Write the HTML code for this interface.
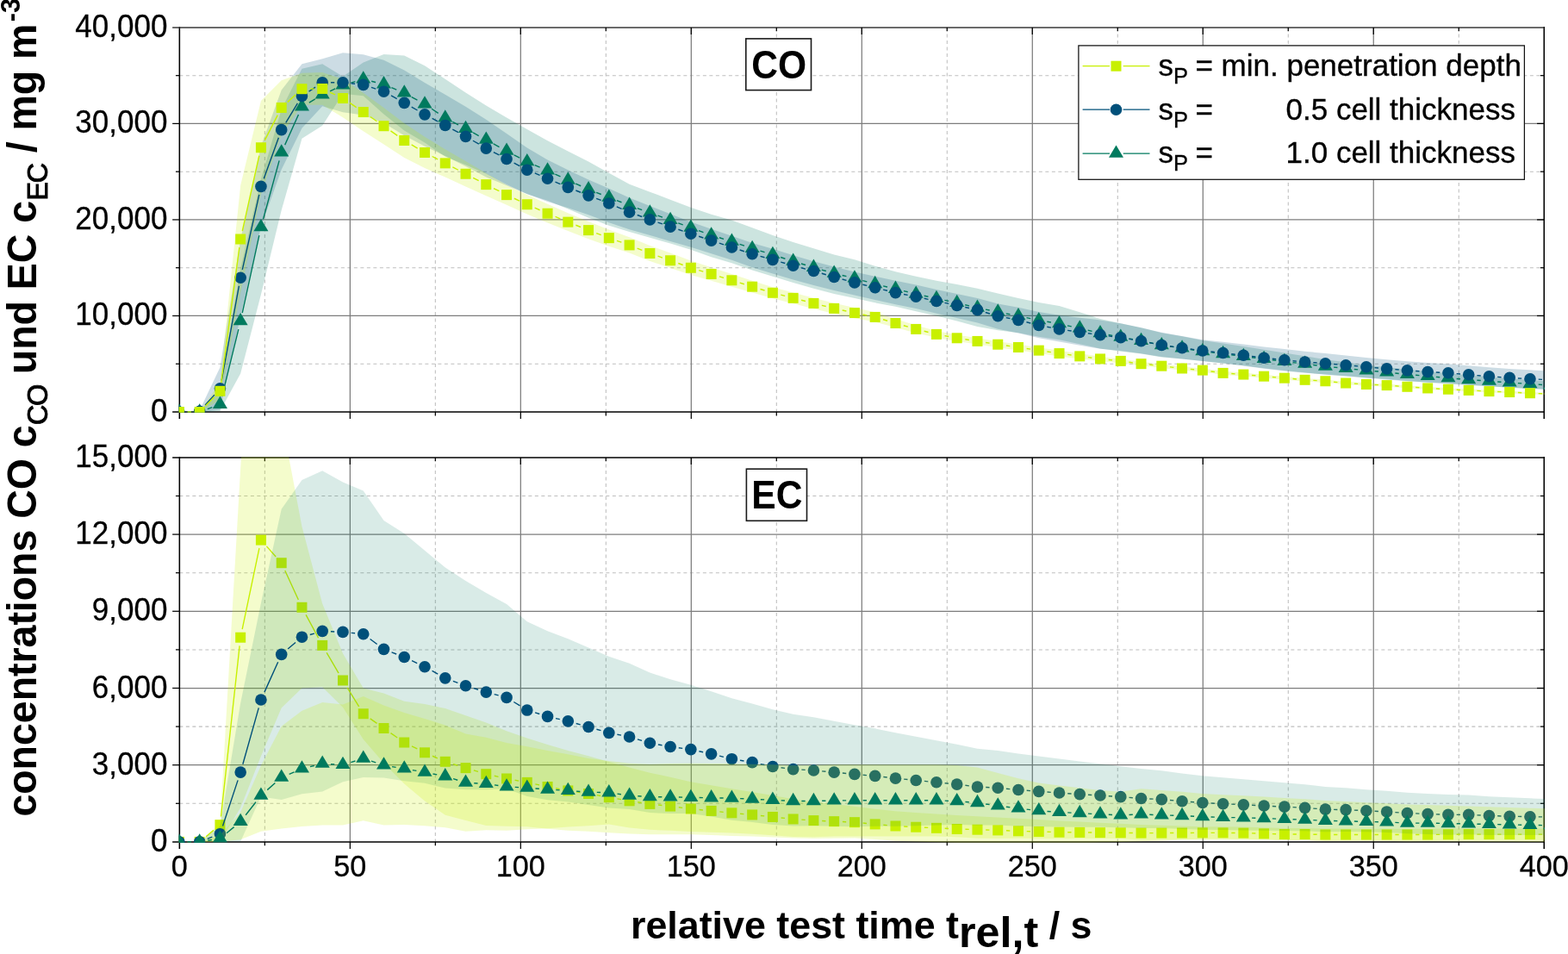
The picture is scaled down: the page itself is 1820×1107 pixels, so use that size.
<!DOCTYPE html>
<html lang="en"><head><meta charset="utf-8"><title>CO and EC concentrations</title>
<style>html,body{margin:0;padding:0;background:#fff;overflow:hidden}svg{display:block}</style>
</head><body>
<svg width="1820" height="1107" viewBox="0 0 1820 1107" role="img" aria-label="CO and EC concentrations over relative test time">
<rect width="1820" height="1107" fill="#fff"/>
<defs>
<clipPath id="ct"><rect x="207.65" y="31.2" width="1585.3" height="447.6"/></clipPath>
<clipPath id="cb"><rect x="207.65" y="530.2" width="1585.3" height="447.5"/></clipPath>
</defs>
<!-- top plot: CO -->
<g stroke="#bebebe" stroke-width="1.05" stroke-dasharray="4 3.5" fill="none">
<line x1="307.34" y1="31.9" x2="307.34" y2="478"/>
<line x1="505.33" y1="31.9" x2="505.33" y2="478"/>
<line x1="703.32" y1="31.9" x2="703.32" y2="478"/>
<line x1="901.31" y1="31.9" x2="901.31" y2="478"/>
<line x1="1099.29" y1="31.9" x2="1099.29" y2="478"/>
<line x1="1297.28" y1="31.9" x2="1297.28" y2="478"/>
<line x1="1495.27" y1="31.9" x2="1495.27" y2="478"/>
<line x1="1693.26" y1="31.9" x2="1693.26" y2="478"/>
<line x1="208.35" y1="422.24" x2="1792.25" y2="422.24"/>
<line x1="208.35" y1="310.71" x2="1792.25" y2="310.71"/>
<line x1="208.35" y1="199.19" x2="1792.25" y2="199.19"/>
<line x1="208.35" y1="87.66" x2="1792.25" y2="87.66"/>
</g>
<g stroke="#7c7c7c" stroke-width="1.25" fill="none">
<line x1="406.34" y1="31.9" x2="406.34" y2="478"/>
<line x1="604.33" y1="31.9" x2="604.33" y2="478"/>
<line x1="802.31" y1="31.9" x2="802.31" y2="478"/>
<line x1="1000.3" y1="31.9" x2="1000.3" y2="478"/>
<line x1="1198.29" y1="31.9" x2="1198.29" y2="478"/>
<line x1="1396.27" y1="31.9" x2="1396.27" y2="478"/>
<line x1="1594.26" y1="31.9" x2="1594.26" y2="478"/>
<line x1="208.35" y1="366.48" x2="1792.25" y2="366.48"/>
<line x1="208.35" y1="254.95" x2="1792.25" y2="254.95"/>
<line x1="208.35" y1="143.42" x2="1792.25" y2="143.42"/>
</g>
<g stroke="#000" stroke-width="1.55" fill="none" stroke-linecap="butt">
<line x1="208.35" y1="31.12" x2="208.35" y2="486"/>
<line x1="1792.25" y1="31.12" x2="1792.25" y2="486"/>
<line x1="200.15" y1="478" x2="1792.25" y2="478"/>
<line x1="200.15" y1="31.9" x2="1792.25" y2="31.9" stroke="#383838"/>
</g>
<g stroke="#000" stroke-width="1.25" fill="none">
<line x1="200.15" y1="366.48" x2="208.35" y2="366.48"/>
<line x1="1784.05" y1="366.48" x2="1792.25" y2="366.48"/>
<line x1="200.15" y1="254.95" x2="208.35" y2="254.95"/>
<line x1="1784.05" y1="254.95" x2="1792.25" y2="254.95"/>
<line x1="200.15" y1="143.42" x2="208.35" y2="143.42"/>
<line x1="1784.05" y1="143.42" x2="1792.25" y2="143.42"/>
<line x1="203.95" y1="422.24" x2="208.35" y2="422.24"/>
<line x1="1787.85" y1="422.24" x2="1792.25" y2="422.24"/>
<line x1="203.95" y1="310.71" x2="208.35" y2="310.71"/>
<line x1="1787.85" y1="310.71" x2="1792.25" y2="310.71"/>
<line x1="203.95" y1="199.19" x2="208.35" y2="199.19"/>
<line x1="1787.85" y1="199.19" x2="1792.25" y2="199.19"/>
<line x1="203.95" y1="87.66" x2="208.35" y2="87.66"/>
<line x1="1787.85" y1="87.66" x2="1792.25" y2="87.66"/>
<line x1="406.34" y1="478" x2="406.34" y2="486"/>
<line x1="604.33" y1="478" x2="604.33" y2="486"/>
<line x1="802.31" y1="478" x2="802.31" y2="486"/>
<line x1="1000.3" y1="478" x2="1000.3" y2="486"/>
<line x1="1198.29" y1="478" x2="1198.29" y2="486"/>
<line x1="1396.27" y1="478" x2="1396.27" y2="486"/>
<line x1="1594.26" y1="478" x2="1594.26" y2="486"/>
<line x1="307.34" y1="478" x2="307.34" y2="482.4"/>
<line x1="505.33" y1="478" x2="505.33" y2="482.4"/>
<line x1="703.32" y1="478" x2="703.32" y2="482.4"/>
<line x1="901.31" y1="478" x2="901.31" y2="482.4"/>
<line x1="1099.29" y1="478" x2="1099.29" y2="482.4"/>
<line x1="1297.28" y1="478" x2="1297.28" y2="482.4"/>
<line x1="1495.27" y1="478" x2="1495.27" y2="482.4"/>
<line x1="1693.26" y1="478" x2="1693.26" y2="482.4"/>
<line x1="406.34" y1="31.9" x2="406.34" y2="40.1"/>
<line x1="604.33" y1="31.9" x2="604.33" y2="40.1"/>
<line x1="802.31" y1="31.9" x2="802.31" y2="40.1"/>
<line x1="1000.3" y1="31.9" x2="1000.3" y2="40.1"/>
<line x1="1198.29" y1="31.9" x2="1198.29" y2="40.1"/>
<line x1="1396.27" y1="31.9" x2="1396.27" y2="40.1"/>
<line x1="1594.26" y1="31.9" x2="1594.26" y2="40.1"/>
<line x1="307.34" y1="31.9" x2="307.34" y2="36.3"/>
<line x1="505.33" y1="31.9" x2="505.33" y2="36.3"/>
<line x1="703.32" y1="31.9" x2="703.32" y2="36.3"/>
<line x1="901.31" y1="31.9" x2="901.31" y2="36.3"/>
<line x1="1099.29" y1="31.9" x2="1099.29" y2="36.3"/>
<line x1="1297.28" y1="31.9" x2="1297.28" y2="36.3"/>
<line x1="1495.27" y1="31.9" x2="1495.27" y2="36.3"/>
<line x1="1693.26" y1="31.9" x2="1693.26" y2="36.3"/>
</g>
<g clip-path="url(#ct)" id="co-series">
<path d="M207.9 478 L231.66 476.88 L255.42 452.57 L279.18 311.27 L302.93 207.89 L326.69 126.81 L350.45 79.86 L374.21 74.28 L397.97 88.78 L421.73 72.55 L445.49 63.07 L469.24 64.52 L493 76.23 L516.76 91.84 L540.52 107.57 L564.28 122.4 L588.04 136.45 L611.79 150.06 L635.55 163.22 L659.31 175.6 L683.07 187.42 L706.83 200.64 L730.59 213.74 L754.35 222.7 L778.1 231.66 L801.86 240.79 L825.62 248.82 L849.38 255.4 L873.14 264.17 L896.9 272.96 L920.65 280.94 L944.41 288.24 L968.17 295.38 L991.93 301.29 L1015.69 308.71 L1039.45 315.23 L1063.21 320.72 L1086.96 325.66 L1110.72 329.98 L1134.48 334.8 L1158.24 340.52 L1182 345.95 L1205.76 350.89 L1229.52 354.99 L1253.27 362.24 L1277.03 369.93 L1300.79 375.29 L1324.55 380.19 L1348.31 386.27 L1372.07 390.34 L1395.82 394.91 L1419.58 398.4 L1443.34 402.05 L1467.1 405.76 L1490.86 409.41 L1514.62 413.18 L1538.38 417.16 L1562.13 420.37 L1585.89 423.74 L1609.65 425.96 L1633.41 428.79 L1657.17 430.96 L1680.93 433.34 L1704.69 435.5 L1728.44 437.39 L1752.2 439.27 L1775.96 441.1 L1799.72 442.81 L1799.72 452.07 L1775.96 450.92 L1752.2 449.67 L1728.44 448.35 L1704.69 447.04 L1680.93 445.45 L1657.17 443.63 L1633.41 442.04 L1609.65 439.78 L1585.89 438.13 L1562.13 436.32 L1538.38 434.67 L1514.62 432.25 L1490.86 430.04 L1467.1 427.23 L1443.34 424.36 L1419.58 421.54 L1395.82 418.89 L1372.07 416.44 L1348.31 414.49 L1324.55 410.53 L1300.79 407.74 L1277.03 404.51 L1253.27 399.14 L1229.52 394.22 L1205.76 390.64 L1182 386.23 L1158.24 383.29 L1134.48 378.97 L1110.72 372.44 L1086.96 366.42 L1063.21 361.34 L1039.45 355.71 L1015.69 351.35 L991.93 346.09 L968.17 341 L944.41 334.68 L920.65 327.99 L896.9 320.64 L873.14 313.56 L849.38 305.3 L825.62 298.31 L801.86 289.86 L778.1 282.55 L754.35 275.69 L730.59 268.89 L706.83 261.64 L683.07 252.66 L659.31 242.51 L635.55 232.81 L611.79 225.23 L588.04 214.08 L564.28 201.81 L540.52 191.21 L516.76 181.85 L493 165.45 L469.24 151.51 L445.49 132.55 L421.73 111.36 L397.97 108.85 L374.21 145.66 L350.45 160.82 L326.69 243.91 L302.93 341.72 L279.18 433.39 L255.42 477.11 L231.66 478.56 L207.9 478 Z" fill="#007a5e" fill-opacity="0.2" stroke="none"/>
<path d="M207.9 478 L231.66 476.22 L255.42 426.31 L279.18 277.7 L302.93 169.58 L326.69 104.61 L350.45 74.28 L374.21 68.31 L397.97 61.18 L421.73 63.35 L445.49 69.68 L469.24 81.42 L493 96.03 L516.76 109.74 L540.52 123.8 L564.28 138.63 L588.04 154.91 L611.79 171.53 L635.55 185.47 L659.31 197.35 L683.07 208.44 L706.83 218.65 L730.59 229.52 L754.35 238.95 L778.1 248.37 L801.86 257.57 L825.62 265.71 L849.38 273.85 L873.14 281.88 L896.9 288.74 L920.65 296.27 L944.41 303.18 L968.17 309.6 L991.93 315.51 L1015.69 320.64 L1039.45 325.66 L1063.21 330.51 L1086.96 336.03 L1110.72 340.88 L1134.48 346.07 L1158.24 352.59 L1182 356.66 L1205.76 362.01 L1229.52 365.75 L1253.27 368.65 L1277.03 371.38 L1300.79 375.29 L1324.55 380.3 L1348.31 385.82 L1372.07 390.01 L1395.82 394.19 L1419.58 396.7 L1443.34 399.49 L1467.1 402.44 L1490.86 404.9 L1514.62 407.77 L1538.38 409.97 L1562.13 412.51 L1585.89 414.99 L1609.65 417.2 L1633.41 419.19 L1657.17 420.9 L1680.93 422.22 L1704.69 424.26 L1728.44 426.25 L1752.2 427.96 L1775.96 429.28 L1799.72 430.49 L1799.72 451.96 L1775.96 450.97 L1752.2 449.86 L1728.44 448.37 L1704.69 446.6 L1680.93 444.77 L1657.17 443.67 L1633.41 442.18 L1609.65 440.4 L1585.89 438.41 L1562.13 436.45 L1538.38 434.43 L1514.62 432.75 L1490.86 430.4 L1467.1 427.75 L1443.34 424.59 L1419.58 421.6 L1395.82 418.89 L1372.07 416.43 L1348.31 413.96 L1324.55 410.19 L1300.79 406.96 L1277.03 404.84 L1253.27 400.71 L1229.52 396.42 L1205.76 392.27 L1182 386.49 L1158.24 381.78 L1134.48 374.62 L1110.72 368.98 L1086.96 363.69 L1063.21 358.11 L1039.45 353.2 L1015.69 347.96 L991.93 342.61 L968.17 337.09 L944.41 331.07 L920.65 324.6 L896.9 317.52 L873.14 310.27 L849.38 301.85 L825.62 294.32 L801.86 286.79 L778.1 279.99 L754.35 272.96 L730.59 266.33 L706.83 258.24 L683.07 249.15 L659.31 241.32 L635.55 233.92 L611.79 225.06 L588.04 215.14 L564.28 205.54 L540.52 192.94 L516.76 181.12 L493 169.63 L469.24 157.25 L445.49 142.67 L421.73 133.5 L397.97 130.21 L374.21 123.29 L350.45 148.78 L326.69 196.73 L302.93 263.26 L279.18 366.92 L255.42 475.38 L231.66 478.45 L207.9 478 Z" fill="#00507a" fill-opacity="0.2" stroke="none"/>
<path d="M207.9 478 L231.66 477.44 L255.42 443.76 L279.18 215.05 L302.93 116.99 L326.69 93.28 L350.45 84.68 L374.21 84.09 L397.97 91.68 L421.73 107.74 L445.49 125.02 L469.24 142.92 L493 158.87 L516.76 173.2 L540.52 187.07 L564.28 200.93 L588.04 214.41 L611.79 225.93 L635.55 236.83 L659.31 247.17 L683.07 257.07 L706.83 266.55 L730.59 275.25 L754.35 285.01 L778.1 293.43 L801.86 302.46 L825.62 310.21 L849.38 317.91 L873.14 325.77 L896.9 333.3 L920.65 339.48 L944.41 345.71 L968.17 351.73 L991.93 357.02 L1015.69 362.29 L1039.45 369.96 L1063.21 377.46 L1086.96 384.1 L1110.72 388.58 L1134.48 392.27 L1158.24 396.14 L1182 399.5 L1205.76 403.2 L1229.52 406.74 L1253.27 410.32 L1277.03 413.69 L1300.79 416.44 L1324.55 419.81 L1348.31 422.4 L1372.07 425.28 L1395.82 427.48 L1419.58 430.82 L1443.34 432.55 L1467.1 434.72 L1490.86 436.78 L1514.62 438.95 L1538.38 440.45 L1562.13 442.79 L1585.89 444.29 L1609.65 445.46 L1633.41 447.19 L1657.17 448.91 L1680.93 450.25 L1704.69 451.47 L1728.44 452.69 L1752.2 453.69 L1775.96 454.92 L1799.72 455.92 L1799.72 458.37 L1775.96 457.48 L1752.2 456.36 L1728.44 455.46 L1704.69 454.34 L1680.93 453.23 L1657.17 451.99 L1633.41 450.37 L1609.65 448.75 L1585.89 447.69 L1562.13 446.29 L1538.38 444.06 L1514.62 442.66 L1490.86 440.6 L1467.1 438.64 L1443.34 436.58 L1419.58 434.95 L1395.82 431.72 L1372.07 429.68 L1348.31 426.98 L1324.55 424.55 L1300.79 421.35 L1277.03 419.19 L1253.27 416.42 L1229.52 413.43 L1205.76 410.04 L1182 406.49 L1158.24 403.28 L1134.48 399.56 L1110.72 396.01 L1086.96 391.68 L1063.21 386.38 L1039.45 380.05 L1015.69 373.56 L991.93 369.13 L968.17 364.05 L944.41 358.24 L920.65 352.21 L896.9 346.23 L873.14 339.6 L849.38 332.63 L825.62 325.82 L801.86 319.08 L778.1 311.05 L754.35 302.96 L730.59 293.54 L706.83 285.73 L683.07 277.14 L659.31 268.08 L635.55 258.57 L611.79 248.51 L588.04 237.83 L564.28 227.33 L540.52 216.44 L516.76 205.54 L493 195.12 L469.24 183.07 L445.49 167.4 L421.73 152.35 L397.97 136.29 L374.21 121.79 L350.45 121.71 L326.69 156.63 L302.93 225.51 L279.18 339.95 L255.42 463.84 L231.66 478.56 L207.9 478 Z" fill="#c8f000" fill-opacity="0.2" stroke="none"/>
<path d="M217.65 478L221.91 478M240.81 474.65L246.26 472.65M257.74 459.83L276.85 382.08M281.25 363.08L300.86 273.18M305.51 254.25L324.11 186.4M330.68 168.1L346.46 132.92M358.84 119.06L365.82 114.93M383.04 105.82L389.14 102.96M407.34 96.11L412.36 94.66M431.19 94.29L436.02 95.48M454.44 101.66L460.28 104.17M477.82 112.65L484.42 116.21M501.09 126.29L508.67 131.4M525.38 141.4L531.9 144.84M549.12 153.99L555.68 157.51M572.81 166.83L579.51 170.54M596.68 179.77L603.15 183.14M620.73 191.55L626.62 194.12M644.39 202.13L650.47 204.95M668.2 213.06L674.18 215.76M692.15 223.32L697.75 225.52M715.92 232.6L721.49 234.76M739.76 241.59L745.18 243.55M763.51 250.18L768.93 252.14M787.25 258.82L792.71 260.84M811.02 267.56L816.47 269.55M834.95 275.75L840.05 277.31M858.59 283.35L863.93 285.21M882.48 291.19L887.55 292.7M906.17 298.51L911.39 300.22M930 306.03L935.07 307.54M953.78 313.05L958.81 314.51M977.65 319.51L982.45 320.65M1001.32 325.55L1006.3 326.94M1025.17 331.85L1029.97 333.01M1048.92 337.62L1053.73 338.79M1072.73 343.2L1077.44 344.24M1096.49 348.4L1101.19 349.42M1120.21 353.72L1124.99 354.86M1144.03 359.08L1148.69 360.04M1167.81 363.88L1172.43 364.78M1191.54 368.64L1196.21 369.61M1215.36 373.27L1219.91 374.06M1239.04 377.83L1243.75 378.87M1262.76 383.24L1267.55 384.39M1286.61 388.5L1291.22 389.39M1310.4 392.9L1314.94 393.69M1334.07 397.48L1338.79 398.54M1357.97 401.99L1362.41 402.61M1381.69 405.48L1386.2 406.2M1405.51 408.88L1409.9 409.39M1429.26 411.73L1433.67 412.28M1453.01 414.71L1457.43 415.27M1476.78 417.7L1481.18 418.25M1500.54 420.59L1504.93 421.1M1524.29 423.46L1528.7 424.02M1548.08 426.16L1552.43 426.57M1571.84 428.46L1576.19 428.9M1595.61 430.7L1599.94 431.06M1619.34 432.95L1623.72 433.44M1643.13 435.3L1647.45 435.66M1666.88 437.35L1671.22 437.74M1690.64 439.43L1694.97 439.79M1714.41 441.27L1718.72 441.57M1738.17 442.94L1742.48 443.24M1761.93 444.59L1766.23 444.88M1785.69 446.16L1789.99 446.44" fill="none" stroke="#007a5e" stroke-width="1.4"/>
<g fill="#007a5e"><path d="M207.9 468.3L216.4 482.6L199.4 482.6Z"/><path d="M231.66 468.3L240.16 482.6L223.16 482.6Z"/><path d="M255.42 459.6L263.92 473.9L246.92 473.9Z"/><path d="M279.18 362.91L287.68 377.21L270.68 377.21Z"/><path d="M302.93 253.95L311.43 268.25L294.43 268.25Z"/><path d="M326.69 167.29L335.19 181.59L318.19 181.59Z"/><path d="M350.45 114.32L358.95 128.62L341.95 128.62Z"/><path d="M374.21 100.27L382.71 114.57L365.71 114.57Z"/><path d="M397.97 89.11L406.47 103.41L389.47 103.41Z"/><path d="M421.73 82.26L430.23 96.56L413.23 96.56Z"/><path d="M445.49 88.11L453.99 102.41L436.99 102.41Z"/><path d="M469.24 98.32L477.74 112.62L460.74 112.62Z"/><path d="M493 111.14L501.5 125.44L484.5 125.44Z"/><path d="M516.76 127.15L525.26 141.45L508.26 141.45Z"/><path d="M540.52 139.69L549.02 153.99L532.02 153.99Z"/><path d="M564.28 152.41L572.78 166.71L555.78 166.71Z"/><path d="M588.04 165.57L596.54 179.87L579.54 179.87Z"/><path d="M611.79 177.94L620.29 192.24L603.29 192.24Z"/><path d="M635.55 188.32L644.05 202.62L627.05 202.62Z"/><path d="M659.31 199.36L667.81 213.66L650.81 213.66Z"/><path d="M683.07 210.06L691.57 224.36L674.57 224.36Z"/><path d="M706.83 219.38L715.33 233.68L698.33 233.68Z"/><path d="M730.59 228.58L739.09 242.88L722.09 242.88Z"/><path d="M754.35 237.16L762.85 251.46L745.85 251.46Z"/><path d="M778.1 245.75L786.6 260.05L769.6 260.05Z"/><path d="M801.86 254.51L810.36 268.81L793.36 268.81Z"/><path d="M825.62 263.21L834.12 277.51L817.12 277.51Z"/><path d="M849.38 270.45L857.88 284.75L840.88 284.75Z"/><path d="M873.14 278.71L881.64 293.01L864.64 293.01Z"/><path d="M896.9 285.79L905.4 300.09L888.4 300.09Z"/><path d="M920.65 293.54L929.15 307.84L912.15 307.84Z"/><path d="M944.41 300.62L952.91 314.92L935.91 314.92Z"/><path d="M968.17 307.54L976.67 321.84L959.67 321.84Z"/><path d="M991.93 313.22L1000.43 327.52L983.43 327.52Z"/><path d="M1015.69 319.86L1024.19 334.16L1007.19 334.16Z"/><path d="M1039.45 325.6L1047.95 339.9L1030.95 339.9Z"/><path d="M1063.21 331.4L1071.71 345.7L1054.71 345.7Z"/><path d="M1086.96 336.64L1095.46 350.94L1078.46 350.94Z"/><path d="M1110.72 341.77L1119.22 356.07L1102.22 356.07Z"/><path d="M1134.48 347.41L1142.98 361.71L1125.98 361.71Z"/><path d="M1158.24 352.31L1166.74 366.61L1149.74 366.61Z"/><path d="M1182 356.94L1190.5 371.24L1173.5 371.24Z"/><path d="M1205.76 361.91L1214.26 376.21L1197.26 376.21Z"/><path d="M1229.52 366.03L1238.02 380.33L1221.02 380.33Z"/><path d="M1253.27 371.27L1261.77 385.57L1244.77 385.57Z"/><path d="M1277.03 376.96L1285.53 391.26L1268.53 391.26Z"/><path d="M1300.79 381.53L1309.29 395.83L1292.29 395.83Z"/><path d="M1324.55 385.66L1333.05 399.96L1316.05 399.96Z"/><path d="M1348.31 390.96L1356.81 405.26L1339.81 405.26Z"/><path d="M1372.07 394.25L1380.57 408.55L1363.57 408.55Z"/><path d="M1395.82 398.04L1404.32 412.34L1387.32 412.34Z"/><path d="M1419.58 400.83L1428.08 415.13L1411.08 415.13Z"/><path d="M1443.34 403.78L1451.84 418.08L1434.84 418.08Z"/><path d="M1467.1 406.79L1475.6 421.09L1458.6 421.09Z"/><path d="M1490.86 409.75L1499.36 424.05L1482.36 424.05Z"/><path d="M1514.62 412.54L1523.12 426.84L1506.12 426.84Z"/><path d="M1538.38 415.55L1546.88 429.85L1529.88 429.85Z"/><path d="M1562.13 417.78L1570.63 432.08L1553.63 432.08Z"/><path d="M1585.89 420.18L1594.39 434.48L1577.39 434.48Z"/><path d="M1609.65 422.18L1618.15 436.48L1601.15 436.48Z"/><path d="M1633.41 424.81L1641.91 439.11L1624.91 439.11Z"/><path d="M1657.17 426.76L1665.67 441.06L1648.67 441.06Z"/><path d="M1680.93 428.93L1689.43 443.23L1672.43 443.23Z"/><path d="M1704.69 430.88L1713.19 445.18L1696.19 445.18Z"/><path d="M1728.44 432.56L1736.94 446.86L1719.94 446.86Z"/><path d="M1752.2 434.23L1760.7 448.53L1743.7 448.53Z"/><path d="M1775.96 435.85L1784.46 450.15L1767.46 450.15Z"/><path d="M1799.72 437.35L1808.22 451.65L1791.22 451.65Z"/></g>
<path d="M217.65 477.73L221.91 477.61M238.17 470.07L248.91 458.1M257.19 441.26L277.4 331.9M281.31 312.8L300.8 225.93M306.25 207.25L323.38 159.84M331.75 142.34L345.39 119.86M358.58 106.15L366.08 101.19M383.96 95.76L388.22 95.74M407.65 96.81L412.04 97.31M431 101.45L436.22 103.15M454.01 110.9L460.71 114.61M477.72 124.15L484.52 128.01M501.62 137.4L508.15 140.86M525.32 150.1L531.96 153.71M548.96 163.24L555.83 167.21M572.92 176.59L579.39 179.96M596.63 189.07L603.2 192.58M620.78 200.97L626.57 203.42M644.51 211.07L650.35 213.57M668.37 221.02L674.01 223.25M692.18 230.33L697.72 232.45M715.79 239.78L721.63 242.29M739.74 249.51L745.2 251.52M763.56 258.09L768.89 259.95M787.34 266.27L792.63 268.06M811.11 274.26L816.37 276.01M834.87 282.18L840.13 283.93M858.65 290.04L863.87 291.74M882.53 297.37L887.5 298.74M906.26 304.07L911.29 305.53M930.08 310.76L934.99 312.06M953.78 317.28L958.81 318.75M977.59 324.02L982.52 325.35M1001.39 330.24L1006.23 331.44M1025.16 336.11L1029.98 337.29M1049.02 341.44L1053.63 342.33M1072.73 346.27L1077.44 347.31M1096.51 351.41L1101.18 352.38M1120.24 356.5L1124.97 357.55M1143.83 362.46L1148.9 363.97M1167.81 368.62L1172.43 369.52M1191.44 373.8L1196.31 375.04M1215.34 379.26L1219.93 380.12M1239.16 383.33L1243.63 383.97M1262.93 386.72L1267.37 387.33M1286.71 389.89L1291.12 390.45M1310.4 393.35L1314.94 394.14M1334.12 397.67L1338.74 398.57M1357.97 401.77L1362.41 402.39M1381.72 405.06L1386.17 405.68M1405.52 408.04L1409.89 408.5M1429.27 410.66L1433.66 411.18M1453.02 413.52L1457.43 414.06M1476.8 416.27L1481.16 416.72M1500.56 418.68L1504.91 419.11M1524.34 420.75L1528.65 421.05M1548.09 422.56L1552.42 422.92M1571.85 424.54L1576.18 424.9M1595.6 426.58L1599.94 426.98M1619.37 428.67L1623.69 429.02M1643.14 430.51L1647.44 430.81M1666.9 432.02L1671.19 432.25M1690.64 433.6L1694.97 433.96M1714.4 435.58L1718.73 435.94M1738.17 437.42L1742.48 437.72M1761.94 438.93L1766.23 439.17M1785.7 440.17L1789.98 440.38" fill="none" stroke="#00507a" stroke-width="1.4"/>
<g fill="#00507a"><circle cx="207.9" cy="478" r="6.8"/><circle cx="231.66" cy="477.33" r="6.8"/><circle cx="255.42" cy="450.84" r="6.8"/><circle cx="279.18" cy="322.31" r="6.8"/><circle cx="302.93" cy="216.42" r="6.8"/><circle cx="326.69" cy="150.67" r="6.8"/><circle cx="350.45" cy="111.53" r="6.8"/><circle cx="374.21" cy="95.8" r="6.8"/><circle cx="397.97" cy="95.69" r="6.8"/><circle cx="421.73" cy="98.42" r="6.8"/><circle cx="445.49" cy="106.18" r="6.8"/><circle cx="469.24" cy="119.34" r="6.8"/><circle cx="493" cy="132.83" r="6.8"/><circle cx="516.76" cy="145.43" r="6.8"/><circle cx="540.52" cy="158.37" r="6.8"/><circle cx="564.28" cy="172.09" r="6.8"/><circle cx="588.04" cy="184.47" r="6.8"/><circle cx="611.79" cy="197.18" r="6.8"/><circle cx="635.55" cy="207.22" r="6.8"/><circle cx="659.31" cy="217.42" r="6.8"/><circle cx="683.07" cy="226.85" r="6.8"/><circle cx="706.83" cy="235.93" r="6.8"/><circle cx="730.59" cy="246.14" r="6.8"/><circle cx="754.35" cy="254.89" r="6.8"/><circle cx="778.1" cy="263.15" r="6.8"/><circle cx="801.86" cy="271.18" r="6.8"/><circle cx="825.62" cy="279.1" r="6.8"/><circle cx="849.38" cy="287.01" r="6.8"/><circle cx="873.14" cy="294.76" r="6.8"/><circle cx="896.9" cy="301.34" r="6.8"/><circle cx="920.65" cy="308.26" r="6.8"/><circle cx="944.41" cy="314.56" r="6.8"/><circle cx="968.17" cy="321.47" r="6.8"/><circle cx="991.93" cy="327.89" r="6.8"/><circle cx="1015.69" cy="333.8" r="6.8"/><circle cx="1039.45" cy="339.6" r="6.8"/><circle cx="1063.21" cy="344.17" r="6.8"/><circle cx="1086.96" cy="349.41" r="6.8"/><circle cx="1110.72" cy="354.37" r="6.8"/><circle cx="1134.48" cy="359.67" r="6.8"/><circle cx="1158.24" cy="366.75" r="6.8"/><circle cx="1182" cy="371.38" r="6.8"/><circle cx="1205.76" cy="377.46" r="6.8"/><circle cx="1229.52" cy="381.92" r="6.8"/><circle cx="1253.27" cy="385.38" r="6.8"/><circle cx="1277.03" cy="388.67" r="6.8"/><circle cx="1300.79" cy="391.68" r="6.8"/><circle cx="1324.55" cy="395.81" r="6.8"/><circle cx="1348.31" cy="400.43" r="6.8"/><circle cx="1372.07" cy="403.72" r="6.8"/><circle cx="1395.82" cy="407.01" r="6.8"/><circle cx="1419.58" cy="409.52" r="6.8"/><circle cx="1443.34" cy="412.31" r="6.8"/><circle cx="1467.1" cy="415.27" r="6.8"/><circle cx="1490.86" cy="417.72" r="6.8"/><circle cx="1514.62" cy="420.06" r="6.8"/><circle cx="1538.38" cy="421.74" r="6.8"/><circle cx="1562.13" cy="423.74" r="6.8"/><circle cx="1585.89" cy="425.69" r="6.8"/><circle cx="1609.65" cy="427.87" r="6.8"/><circle cx="1633.41" cy="429.82" r="6.8"/><circle cx="1657.17" cy="431.49" r="6.8"/><circle cx="1680.93" cy="432.78" r="6.8"/><circle cx="1704.69" cy="434.78" r="6.8"/><circle cx="1728.44" cy="436.74" r="6.8"/><circle cx="1752.2" cy="438.41" r="6.8"/><circle cx="1775.96" cy="439.69" r="6.8"/><circle cx="1799.72" cy="440.86" r="6.8"/></g>
<path d="M217.65 478L221.91 478M238.49 471.04L248.59 460.76M256.72 444.14L277.87 287.16M281.3 267.99L300.81 180.77M307.39 162.58L322.24 133.63M333.88 118.37L343.26 109.78M360.2 103.09L364.46 103.05M383.05 107.05L389.13 109.87M406.05 119.44L413.65 124.58M429.79 135.53L437.42 140.73M453.45 151.84L461.28 157.37M477.64 167.95L484.6 172.05M501.65 181.5L508.11 184.87M525.41 193.88L531.87 197.25M549.17 206.26L555.63 209.63M572.98 218.52L579.33 221.73M596.87 230.25L602.96 233.09M620.71 241.15L626.63 243.76M644.55 251.46L650.32 253.87M668.37 261.24L674.01 263.49M692.18 270.57L697.72 272.67M716.04 279.34L721.38 281.19M739.63 288.04L745.3 290.33M763.56 297.18L768.89 299.04M787.28 305.53L792.69 307.47M811.19 313.61L816.3 315.17M834.95 320.86L840.05 322.42M858.69 328.17L863.83 329.78M882.48 335.47L887.55 336.98M906.34 342.18L911.21 343.43M930.1 348.28L934.97 349.54M953.88 354.33L958.71 355.53M977.7 359.97L982.4 360.99M1001.48 365.02L1006.14 365.97M1025.03 370.71L1030.1 372.22M1048.81 377.73L1053.84 379.2M1072.66 384.3L1077.51 385.51M1096.55 389.67L1101.14 390.52M1120.36 393.76L1124.84 394.45M1144.11 397.45L1148.61 398.17M1167.9 401.05L1172.34 401.66M1191.64 404.47L1196.12 405.15M1215.41 408.03L1219.87 408.68M1239.17 411.42L1243.62 412.03M1262.94 414.62L1267.36 415.19M1286.73 417.44L1291.09 417.89M1310.45 420.23L1314.89 420.84M1334.25 423.21L1338.61 423.67M1357.99 425.83L1362.38 426.34M1381.78 428.35L1386.11 428.73M1405.48 430.94L1409.93 431.55M1429.31 433.57L1433.62 433.88M1453.05 435.43L1457.39 435.81M1476.82 437.5L1481.14 437.87M1500.57 439.55L1504.91 439.94M1524.35 441.4L1528.64 441.66M1548.08 443.19L1552.43 443.61M1571.87 445.14L1576.16 445.4M1595.63 446.45L1599.91 446.65M1619.38 447.79L1623.68 448.1M1643.14 449.47L1647.44 449.77M1666.9 450.98L1671.19 451.21M1690.67 452.22L1694.95 452.43M1714.42 453.39L1718.71 453.6M1738.19 454.47L1742.46 454.64M1761.94 455.51L1766.22 455.72M1785.7 456.59L1789.98 456.76" fill="none" stroke="#c8f000" stroke-width="1.4"/>
<g fill="#c8f000"><rect x="201.9" y="472" width="12" height="12"/><rect x="225.66" y="472" width="12" height="12"/><rect x="249.42" y="447.8" width="12" height="12"/><rect x="273.18" y="271.5" width="12" height="12"/><rect x="296.93" y="165.25" width="12" height="12"/><rect x="320.69" y="118.96" width="12" height="12"/><rect x="344.45" y="97.2" width="12" height="12"/><rect x="368.21" y="96.94" width="12" height="12"/><rect x="391.97" y="107.98" width="12" height="12"/><rect x="415.73" y="124.04" width="12" height="12"/><rect x="439.49" y="140.21" width="12" height="12"/><rect x="463.24" y="157" width="12" height="12"/><rect x="487" y="170.99" width="12" height="12"/><rect x="510.76" y="183.37" width="12" height="12"/><rect x="534.52" y="195.75" width="12" height="12"/><rect x="558.28" y="208.13" width="12" height="12"/><rect x="582.04" y="220.12" width="12" height="12"/><rect x="605.79" y="231.22" width="12" height="12"/><rect x="629.55" y="241.7" width="12" height="12"/><rect x="653.31" y="251.63" width="12" height="12"/><rect x="677.07" y="261.11" width="12" height="12"/><rect x="700.83" y="270.14" width="12" height="12"/><rect x="724.59" y="278.39" width="12" height="12"/><rect x="748.35" y="287.98" width="12" height="12"/><rect x="772.1" y="296.24" width="12" height="12"/><rect x="795.86" y="304.77" width="12" height="12"/><rect x="819.62" y="312.02" width="12" height="12"/><rect x="843.38" y="319.27" width="12" height="12"/><rect x="867.14" y="326.68" width="12" height="12"/><rect x="890.9" y="333.76" width="12" height="12"/><rect x="914.65" y="339.84" width="12" height="12"/><rect x="938.41" y="345.98" width="12" height="12"/><rect x="962.17" y="351.89" width="12" height="12"/><rect x="985.93" y="357.07" width="12" height="12"/><rect x="1009.69" y="361.92" width="12" height="12"/><rect x="1033.45" y="369.01" width="12" height="12"/><rect x="1057.21" y="375.92" width="12" height="12"/><rect x="1080.96" y="381.89" width="12" height="12"/><rect x="1104.72" y="386.29" width="12" height="12"/><rect x="1128.48" y="389.92" width="12" height="12"/><rect x="1152.24" y="393.71" width="12" height="12"/><rect x="1176" y="397" width="12" height="12"/><rect x="1199.76" y="400.62" width="12" height="12"/><rect x="1223.52" y="404.08" width="12" height="12"/><rect x="1247.27" y="407.37" width="12" height="12"/><rect x="1271.03" y="410.44" width="12" height="12"/><rect x="1294.79" y="412.89" width="12" height="12"/><rect x="1318.55" y="416.18" width="12" height="12"/><rect x="1342.31" y="418.69" width="12" height="12"/><rect x="1366.07" y="421.48" width="12" height="12"/><rect x="1389.82" y="423.6" width="12" height="12"/><rect x="1413.58" y="426.89" width="12" height="12"/><rect x="1437.34" y="428.56" width="12" height="12"/><rect x="1461.1" y="430.68" width="12" height="12"/><rect x="1484.86" y="432.69" width="12" height="12"/><rect x="1508.62" y="434.81" width="12" height="12"/><rect x="1532.38" y="436.26" width="12" height="12"/><rect x="1556.13" y="438.54" width="12" height="12"/><rect x="1579.89" y="439.99" width="12" height="12"/><rect x="1603.65" y="441.11" width="12" height="12"/><rect x="1627.41" y="442.78" width="12" height="12"/><rect x="1651.17" y="444.45" width="12" height="12"/><rect x="1674.93" y="445.74" width="12" height="12"/><rect x="1698.69" y="446.91" width="12" height="12"/><rect x="1722.44" y="448.08" width="12" height="12"/><rect x="1746.2" y="449.03" width="12" height="12"/><rect x="1769.96" y="450.2" width="12" height="12"/><rect x="1793.72" y="451.14" width="12" height="12"/></g>
</g>
<g font-family="'Liberation Sans', Arial, sans-serif" font-size="36.9" fill="#000" stroke="#000" stroke-width="0.3" text-anchor="end">
<text transform="translate(194.4 489) scale(0.949 1)">0</text>
<text transform="translate(194.4 377.48) scale(0.949 1)">10,000</text>
<text transform="translate(194.4 265.95) scale(0.949 1)">20,000</text>
<text transform="translate(194.4 154.42) scale(0.949 1)">30,000</text>
<text transform="translate(194.4 42.9) scale(0.949 1)">40,000</text>
</g>
<!-- bottom plot: EC -->
<g stroke="#bebebe" stroke-width="1.05" stroke-dasharray="4 3.5" fill="none">
<line x1="307.34" y1="530.9" x2="307.34" y2="976.9"/>
<line x1="505.33" y1="530.9" x2="505.33" y2="976.9"/>
<line x1="703.32" y1="530.9" x2="703.32" y2="976.9"/>
<line x1="901.31" y1="530.9" x2="901.31" y2="976.9"/>
<line x1="1099.29" y1="530.9" x2="1099.29" y2="976.9"/>
<line x1="1297.28" y1="530.9" x2="1297.28" y2="976.9"/>
<line x1="1495.27" y1="530.9" x2="1495.27" y2="976.9"/>
<line x1="1693.26" y1="530.9" x2="1693.26" y2="976.9"/>
<line x1="208.35" y1="932.3" x2="1792.25" y2="932.3"/>
<line x1="208.35" y1="843.1" x2="1792.25" y2="843.1"/>
<line x1="208.35" y1="753.9" x2="1792.25" y2="753.9"/>
<line x1="208.35" y1="664.7" x2="1792.25" y2="664.7"/>
<line x1="208.35" y1="575.5" x2="1792.25" y2="575.5"/>
</g>
<g stroke="#7c7c7c" stroke-width="1.25" fill="none">
<line x1="406.34" y1="530.9" x2="406.34" y2="976.9"/>
<line x1="604.33" y1="530.9" x2="604.33" y2="976.9"/>
<line x1="802.31" y1="530.9" x2="802.31" y2="976.9"/>
<line x1="1000.3" y1="530.9" x2="1000.3" y2="976.9"/>
<line x1="1198.29" y1="530.9" x2="1198.29" y2="976.9"/>
<line x1="1396.27" y1="530.9" x2="1396.27" y2="976.9"/>
<line x1="1594.26" y1="530.9" x2="1594.26" y2="976.9"/>
<line x1="208.35" y1="887.7" x2="1792.25" y2="887.7"/>
<line x1="208.35" y1="798.5" x2="1792.25" y2="798.5"/>
<line x1="208.35" y1="709.3" x2="1792.25" y2="709.3"/>
<line x1="208.35" y1="620.1" x2="1792.25" y2="620.1"/>
</g>
<g stroke="#000" stroke-width="1.55" fill="none" stroke-linecap="butt">
<line x1="208.35" y1="530.12" x2="208.35" y2="984.9"/>
<line x1="1792.25" y1="530.12" x2="1792.25" y2="984.9"/>
<line x1="200.15" y1="976.9" x2="1792.25" y2="976.9"/>
<line x1="200.15" y1="530.9" x2="1792.25" y2="530.9" stroke="#000"/>
</g>
<g stroke="#000" stroke-width="1.25" fill="none">
<line x1="200.15" y1="887.7" x2="208.35" y2="887.7"/>
<line x1="1784.05" y1="887.7" x2="1792.25" y2="887.7"/>
<line x1="200.15" y1="798.5" x2="208.35" y2="798.5"/>
<line x1="1784.05" y1="798.5" x2="1792.25" y2="798.5"/>
<line x1="200.15" y1="709.3" x2="208.35" y2="709.3"/>
<line x1="1784.05" y1="709.3" x2="1792.25" y2="709.3"/>
<line x1="200.15" y1="620.1" x2="208.35" y2="620.1"/>
<line x1="1784.05" y1="620.1" x2="1792.25" y2="620.1"/>
<line x1="203.95" y1="932.3" x2="208.35" y2="932.3"/>
<line x1="1787.85" y1="932.3" x2="1792.25" y2="932.3"/>
<line x1="203.95" y1="843.1" x2="208.35" y2="843.1"/>
<line x1="1787.85" y1="843.1" x2="1792.25" y2="843.1"/>
<line x1="203.95" y1="753.9" x2="208.35" y2="753.9"/>
<line x1="1787.85" y1="753.9" x2="1792.25" y2="753.9"/>
<line x1="203.95" y1="664.7" x2="208.35" y2="664.7"/>
<line x1="1787.85" y1="664.7" x2="1792.25" y2="664.7"/>
<line x1="203.95" y1="575.5" x2="208.35" y2="575.5"/>
<line x1="1787.85" y1="575.5" x2="1792.25" y2="575.5"/>
<line x1="406.34" y1="976.9" x2="406.34" y2="984.9"/>
<line x1="604.33" y1="976.9" x2="604.33" y2="984.9"/>
<line x1="802.31" y1="976.9" x2="802.31" y2="984.9"/>
<line x1="1000.3" y1="976.9" x2="1000.3" y2="984.9"/>
<line x1="1198.29" y1="976.9" x2="1198.29" y2="984.9"/>
<line x1="1396.27" y1="976.9" x2="1396.27" y2="984.9"/>
<line x1="1594.26" y1="976.9" x2="1594.26" y2="984.9"/>
<line x1="307.34" y1="976.9" x2="307.34" y2="981.3"/>
<line x1="505.33" y1="976.9" x2="505.33" y2="981.3"/>
<line x1="703.32" y1="976.9" x2="703.32" y2="981.3"/>
<line x1="901.31" y1="976.9" x2="901.31" y2="981.3"/>
<line x1="1099.29" y1="976.9" x2="1099.29" y2="981.3"/>
<line x1="1297.28" y1="976.9" x2="1297.28" y2="981.3"/>
<line x1="1495.27" y1="976.9" x2="1495.27" y2="981.3"/>
<line x1="1693.26" y1="976.9" x2="1693.26" y2="981.3"/>
<line x1="406.34" y1="530.9" x2="406.34" y2="539.1"/>
<line x1="604.33" y1="530.9" x2="604.33" y2="539.1"/>
<line x1="802.31" y1="530.9" x2="802.31" y2="539.1"/>
<line x1="1000.3" y1="530.9" x2="1000.3" y2="539.1"/>
<line x1="1198.29" y1="530.9" x2="1198.29" y2="539.1"/>
<line x1="1396.27" y1="530.9" x2="1396.27" y2="539.1"/>
<line x1="1594.26" y1="530.9" x2="1594.26" y2="539.1"/>
<line x1="307.34" y1="530.9" x2="307.34" y2="535.3"/>
<line x1="505.33" y1="530.9" x2="505.33" y2="535.3"/>
<line x1="703.32" y1="530.9" x2="703.32" y2="535.3"/>
<line x1="901.31" y1="530.9" x2="901.31" y2="535.3"/>
<line x1="1099.29" y1="530.9" x2="1099.29" y2="535.3"/>
<line x1="1297.28" y1="530.9" x2="1297.28" y2="535.3"/>
<line x1="1495.27" y1="530.9" x2="1495.27" y2="535.3"/>
<line x1="1693.26" y1="530.9" x2="1693.26" y2="535.3"/>
</g>
<g clip-path="url(#cb)" id="ec-series">
<path d="M207.9 976.9 L231.66 976.9 L255.42 955.97 L279.18 542.88 L302.93 186.56 L326.69 484.93 L350.45 611.12 L374.21 700.41 L397.97 758.27 L421.73 798.53 L445.49 804.6 L469.24 813.66 L493 817.11 L516.76 821.96 L540.52 830.17 L564.28 838.43 L588.04 848.15 L611.79 856.45 L635.55 864.09 L659.31 871.11 L683.07 877.24 L706.83 883.95 L730.59 890.61 L754.35 896.68 L778.1 901.85 L801.86 907.32 L825.62 911.29 L849.38 915.29 L873.14 918.99 L896.9 923.07 L920.65 927.16 L944.41 930.41 L968.17 933.04 L991.93 935.64 L1015.69 938.69 L1039.45 941.22 L1063.21 942.91 L1086.96 944.49 L1110.72 946.1 L1134.48 947.23 L1158.24 948.39 L1182 949.75 L1205.76 951.02 L1229.52 952.56 L1253.27 953.62 L1277.03 954.75 L1300.79 955.78 L1324.55 956.91 L1348.31 957.76 L1372.07 958.5 L1395.82 959.21 L1419.58 959.24 L1443.34 959.55 L1467.1 960.29 L1490.86 961.01 L1514.62 961.05 L1538.38 961.56 L1562.13 961.59 L1585.89 961.63 L1609.65 961.66 L1633.41 961.7 L1657.17 961.73 L1680.93 961.56 L1704.69 961.42 L1728.44 961.45 L1752.2 961.49 L1775.96 961.52 L1799.72 961.56 L1799.72 974.64 L1775.96 974.68 L1752.2 974.71 L1728.44 974.75 L1704.69 974.78 L1680.93 974.99 L1657.17 975.24 L1633.41 975.27 L1609.65 975.31 L1585.89 975.34 L1562.13 975.38 L1538.38 975.41 L1514.62 974.97 L1490.86 975.01 L1467.1 974.36 L1443.34 973.68 L1419.58 973.45 L1395.82 973.48 L1372.07 974.49 L1348.31 975.46 L1324.55 976.32 L1300.79 976.91 L1277.03 977.58 L1253.27 978.17 L1229.52 978.39 L1205.76 978.39 L1182 978.39 L1158.24 978.39 L1134.48 978.15 L1110.72 977.91 L1086.96 977.2 L1063.21 976.51 L1039.45 975.71 L1015.69 974.08 L991.93 972.56 L968.17 972.8 L944.41 973 L920.65 972.59 L896.9 971.39 L873.14 970.47 L849.38 969.92 L825.62 969.09 L801.86 968.28 L778.1 968.16 L754.35 968.34 L730.59 967.62 L706.83 966.31 L683.07 964.76 L659.31 963.75 L635.55 961.85 L611.79 959.33 L588.04 958.76 L564.28 957.96 L540.52 952.07 L516.76 945.65 L493 929.51 L469.24 909.41 L445.49 885.47 L421.73 858 L397.97 820.71 L374.21 797.34 L350.45 798.44 L326.69 821.51 L302.93 877.56 L279.18 937.15 L255.42 976.48 L231.66 976.9 L207.9 976.9 Z" fill="#c8f000" fill-opacity="0.2" stroke="none"/>
<path d="M217.65 976.9L221.91 976.9M239.16 970.67L247.92 963.39M256.48 947.46L278.12 749.41M281.18 730.18L300.93 636.15M309.43 633.88L320.2 645.95M330.77 662.08L346.37 695.93M355.08 713.36L369.58 740.29M379.13 757.29L393.05 781.07M403.06 797.8L416.63 819.95M429.69 833.89L437.52 839.41M453.49 850.59L461.24 855.97M477.98 865.86L484.27 868.98M501.92 877.25L507.84 879.86M526.08 886.67L531.2 888.25M549.86 893.9L554.93 895.41M573.8 900.3L578.52 901.35M597.62 905.25L602.21 906.1M621.33 909.93L626.02 910.93M645.14 914.77L649.73 915.63M668.95 918.88L673.43 919.55M692.67 922.68L697.22 923.48M716.43 926.85L720.98 927.64M740.23 930.77L744.7 931.45M764.03 933.99L768.42 934.48M787.78 936.78L792.19 937.33M811.56 939.52L815.92 939.95M835.32 941.91L839.68 942.35M859.09 944.19L863.43 944.58M882.83 946.46L887.2 946.92M906.59 948.96L910.96 949.42M930.38 951.12L934.69 951.42M954.15 952.53L958.43 952.72M977.91 953.56L982.19 953.74M1001.64 955.07L1005.98 955.47M1025.4 957.23L1029.73 957.61M1049.18 958.98L1053.47 959.2M1072.94 960.18L1077.23 960.38M1096.7 961.32L1100.98 961.53M1120.47 962.28L1124.74 962.41M1144.23 962.98L1148.49 963.11M1167.98 963.78L1172.26 963.94M1191.74 964.6L1196.01 964.73M1215.5 965.29L1219.77 965.41M1239.27 965.78L1243.52 965.81M1263.02 966.01L1267.28 966.06M1286.78 966.24L1291.04 966.27M1310.54 966.45L1314.8 966.5M1334.3 966.61L1338.56 966.61M1358.06 966.56L1362.32 966.54M1381.82 966.43L1386.08 966.41M1405.57 966.34L1409.83 966.34M1429.33 966.45L1433.59 966.5M1453.09 966.9L1457.35 967.03M1476.85 967.61L1481.11 967.73M1500.61 968.01L1504.87 968.01M1524.37 968.2L1528.63 968.29M1548.13 968.49L1552.38 968.49M1571.88 968.49L1576.14 968.49M1595.64 968.49L1599.9 968.49M1619.4 968.49L1623.66 968.49M1643.16 968.49L1647.42 968.49M1666.92 968.4L1671.18 968.36M1690.68 968.2L1694.94 968.17M1714.44 968.1L1718.69 968.1M1738.19 968.1L1742.45 968.1M1761.95 968.1L1766.21 968.1M1785.71 968.1L1789.97 968.1" fill="none" stroke="#c8f000" stroke-width="1.4"/>
<g fill="#c8f000"><rect x="201.9" y="970.9" width="12" height="12"/><rect x="225.66" y="970.9" width="12" height="12"/><rect x="249.42" y="951.16" width="12" height="12"/><rect x="273.18" y="733.72" width="12" height="12"/><rect x="296.93" y="620.61" width="12" height="12"/><rect x="320.69" y="647.22" width="12" height="12"/><rect x="344.45" y="698.78" width="12" height="12"/><rect x="368.21" y="742.88" width="12" height="12"/><rect x="391.97" y="783.49" width="12" height="12"/><rect x="415.73" y="822.26" width="12" height="12"/><rect x="439.49" y="839.03" width="12" height="12"/><rect x="463.24" y="855.53" width="12" height="12"/><rect x="487" y="867.31" width="12" height="12"/><rect x="510.76" y="877.8" width="12" height="12"/><rect x="534.52" y="885.12" width="12" height="12"/><rect x="558.28" y="892.2" width="12" height="12"/><rect x="582.04" y="897.46" width="12" height="12"/><rect x="605.79" y="901.89" width="12" height="12"/><rect x="629.55" y="906.97" width="12" height="12"/><rect x="653.31" y="911.43" width="12" height="12"/><rect x="677.07" y="915" width="12" height="12"/><rect x="700.83" y="919.16" width="12" height="12"/><rect x="724.59" y="923.33" width="12" height="12"/><rect x="748.35" y="926.89" width="12" height="12"/><rect x="772.1" y="929.57" width="12" height="12"/><rect x="795.86" y="932.54" width="12" height="12"/><rect x="819.62" y="934.92" width="12" height="12"/><rect x="843.38" y="937.33" width="12" height="12"/><rect x="867.14" y="939.44" width="12" height="12"/><rect x="890.9" y="941.94" width="12" height="12"/><rect x="914.65" y="944.44" width="12" height="12"/><rect x="938.41" y="946.1" width="12" height="12"/><rect x="962.17" y="947.14" width="12" height="12"/><rect x="985.93" y="948.15" width="12" height="12"/><rect x="1009.69" y="950.38" width="12" height="12"/><rect x="1033.45" y="952.47" width="12" height="12"/><rect x="1057.21" y="953.71" width="12" height="12"/><rect x="1080.96" y="954.84" width="12" height="12"/><rect x="1104.72" y="956" width="12" height="12"/><rect x="1128.48" y="956.69" width="12" height="12"/><rect x="1152.24" y="957.4" width="12" height="12"/><rect x="1176" y="958.32" width="12" height="12"/><rect x="1199.76" y="959.01" width="12" height="12"/><rect x="1223.52" y="959.69" width="12" height="12"/><rect x="1247.27" y="959.9" width="12" height="12"/><rect x="1271.03" y="960.17" width="12" height="12"/><rect x="1294.79" y="960.34" width="12" height="12"/><rect x="1318.55" y="960.61" width="12" height="12"/><rect x="1342.31" y="960.61" width="12" height="12"/><rect x="1366.07" y="960.49" width="12" height="12"/><rect x="1389.82" y="960.34" width="12" height="12"/><rect x="1413.58" y="960.34" width="12" height="12"/><rect x="1437.34" y="960.61" width="12" height="12"/><rect x="1461.1" y="961.33" width="12" height="12"/><rect x="1484.86" y="962.01" width="12" height="12"/><rect x="1508.62" y="962.01" width="12" height="12"/><rect x="1532.38" y="962.49" width="12" height="12"/><rect x="1556.13" y="962.49" width="12" height="12"/><rect x="1579.89" y="962.49" width="12" height="12"/><rect x="1603.65" y="962.49" width="12" height="12"/><rect x="1627.41" y="962.49" width="12" height="12"/><rect x="1651.17" y="962.49" width="12" height="12"/><rect x="1674.93" y="962.28" width="12" height="12"/><rect x="1698.69" y="962.1" width="12" height="12"/><rect x="1722.44" y="962.1" width="12" height="12"/><rect x="1746.2" y="962.1" width="12" height="12"/><rect x="1769.96" y="962.1" width="12" height="12"/><rect x="1793.72" y="962.1" width="12" height="12"/></g>
<path d="M207.9 976.9 L231.66 976.9 L255.42 958.76 L279.18 815.83 L302.93 699.64 L326.69 590.78 L350.45 557.07 L374.21 546.36 L397.97 559.47 L421.73 569.4 L445.49 604.07 L469.24 618.91 L493 638.77 L516.76 658.51 L540.52 674.03 L564.28 688 L588.04 700.9 L611.79 721.24 L635.55 732.3 L659.31 741.37 L683.07 751.46 L706.83 761.79 L730.59 769.82 L754.35 780.53 L778.1 788.15 L801.86 794.69 L825.62 802.14 L849.38 810.18 L873.14 816.38 L896.9 823.37 L920.65 828.74 L944.41 832.29 L968.17 836.7 L991.93 841.17 L1015.69 845.34 L1039.45 850.27 L1063.21 854.75 L1086.96 859.21 L1110.72 863.69 L1134.48 868.68 L1158.24 871 L1182 874.44 L1205.76 877.51 L1229.52 880.5 L1253.27 883.46 L1277.03 886.21 L1300.79 889.13 L1324.55 892.04 L1348.31 894.27 L1372.07 897.42 L1395.82 900.31 L1419.58 902.31 L1443.34 904.3 L1467.1 906.3 L1490.86 908.3 L1514.62 910.3 L1538.38 912.98 L1562.13 914.26 L1585.89 916.26 L1609.65 917.87 L1633.41 919.72 L1657.17 920.89 L1680.93 922.07 L1704.69 922.45 L1728.44 924.14 L1752.2 925.36 L1775.96 926.36 L1799.72 927.25 L1799.72 968.87 L1775.96 969.04 L1752.2 969.1 L1728.44 968.94 L1704.69 968.31 L1680.93 968.7 L1657.17 968.03 L1633.41 967.36 L1609.65 966 L1585.89 965.29 L1562.13 964.97 L1538.38 965.36 L1514.62 964.35 L1490.86 964.03 L1467.1 963.71 L1443.34 963.39 L1419.58 963.07 L1395.82 962.75 L1372.07 962 L1348.31 960.99 L1324.55 960.9 L1300.79 960.13 L1277.03 959.83 L1253.27 959.79 L1229.52 959.54 L1205.76 959.26 L1182 958.64 L1158.24 957.51 L1134.48 957.5 L1110.72 957.08 L1086.96 957.62 L1063.21 958.2 L1039.45 958.74 L1015.69 958.84 L991.93 959.32 L968.17 958.74 L944.41 958.22 L920.65 958.55 L896.9 957.08 L873.14 953.97 L849.38 951.66 L825.62 947.51 L801.86 943.96 L778.1 944.04 L754.35 943.06 L730.59 938.99 L706.83 937.59 L683.07 933.91 L659.31 930.46 L635.55 928.23 L611.79 924.09 L588.04 915.32 L564.28 916.31 L540.52 916.23 L516.76 914.6 L493 908.75 L469.24 906.13 L445.49 902.6 L421.73 902.12 L397.97 907.35 L374.21 918.38 L350.45 921.3 L326.69 927.96 L302.93 924.42 L279.18 976.39 L255.42 976.6 L231.66 976.9 L207.9 976.9 Z" fill="#007a5e" fill-opacity="0.15" stroke="none"/>
<path d="M217.65 976.9L221.91 976.9M240.75 973.37L246.33 971.21M258.49 958.43L276.1 905.37M281.83 886.73L300.28 821.41M306.94 803.14L322.68 768.26M334.12 753.06L343.02 745.5M359.82 736.5L364.84 735.06M383.95 732.8L388.23 732.99M407.67 734.37L412.02 734.8M429.57 741.56L437.65 747.54M454.58 756.85L460.15 759.01M478.06 766.69L484.19 769.59M501.54 778.47L508.22 782.16M525.89 790.29L531.39 792.35M549.83 798.64L554.96 800.23M573.7 805.6L578.61 806.89M596.33 814.51L603.5 818.94M621.11 826.95L626.24 828.54M645.06 833.59L649.81 834.68M668.7 839.49L673.68 840.88M692.43 846.23L697.47 847.7M716.4 852.27L721.02 853.17M739.91 857.88L745.02 859.45M763.95 864L768.5 864.81M787.77 867.77L792.2 868.35M811.38 871.72L816.1 872.76M835.09 877.18L839.91 878.36M859 882.3L863.52 883.05M882.7 886.59L887.34 887.53M906.56 890.74L910.99 891.32M930.39 893.15L934.68 893.4M954.12 894.84L958.46 895.25M977.88 897.07L982.22 897.48M1001.65 899.22L1005.97 899.58M1025.37 901.52L1029.76 902.03M1049.15 904.11L1053.5 904.53M1072.91 906.42L1077.26 906.83M1096.67 908.72L1101.02 909.14M1120.4 911.31L1124.81 911.87M1144.22 913.57L1148.5 913.78M1167.95 915.19L1172.29 915.61M1191.72 917.3L1196.04 917.63M1215.48 919.05L1219.79 919.35M1239.24 920.68L1243.55 920.97M1263.01 922.2L1267.3 922.45M1286.76 923.68L1291.06 923.97M1310.51 925.38L1314.83 925.72M1334.29 926.95L1338.57 927.16M1358.02 928.48L1362.35 928.86M1381.79 930.46L1386.1 930.78M1405.56 932L1409.85 932.21M1429.32 933.16L1433.6 933.37M1453.08 934.32L1457.36 934.53M1476.84 935.48L1481.12 935.69M1500.6 936.64L1504.88 936.85M1524.34 938.08L1528.66 938.41M1548.12 939.35L1552.39 939.43M1571.87 940.09L1576.15 940.3M1595.63 941.25L1599.91 941.46M1619.38 942.59L1623.68 942.88M1643.15 943.92L1647.43 944.08M1666.91 944.84L1671.18 945M1690.68 945.38L1694.94 945.38M1714.42 945.86L1718.71 946.07M1738.19 946.82L1742.46 946.95M1761.95 947.42L1766.21 947.51M1785.71 947.85L1789.97 947.91" fill="none" stroke="#00507a" stroke-width="1.4"/>
<g fill="#00507a"><circle cx="207.9" cy="976.9" r="6.8"/><circle cx="231.66" cy="976.9" r="6.8"/><circle cx="255.42" cy="967.68" r="6.8"/><circle cx="279.18" cy="896.11" r="6.8"/><circle cx="302.93" cy="812.03" r="6.8"/><circle cx="326.69" cy="759.37" r="6.8"/><circle cx="350.45" cy="739.18" r="6.8"/><circle cx="374.21" cy="732.37" r="6.8"/><circle cx="397.97" cy="733.41" r="6.8"/><circle cx="421.73" cy="735.76" r="6.8"/><circle cx="445.49" cy="753.34" r="6.8"/><circle cx="469.24" cy="762.52" r="6.8"/><circle cx="493" cy="773.76" r="6.8"/><circle cx="516.76" cy="786.87" r="6.8"/><circle cx="540.52" cy="795.76" r="6.8"/><circle cx="564.28" cy="803.11" r="6.8"/><circle cx="588.04" cy="809.38" r="6.8"/><circle cx="611.79" cy="824.07" r="6.8"/><circle cx="635.55" cy="831.41" r="6.8"/><circle cx="659.31" cy="836.86" r="6.8"/><circle cx="683.07" cy="843.52" r="6.8"/><circle cx="706.83" cy="850.41" r="6.8"/><circle cx="730.59" cy="855.02" r="6.8"/><circle cx="754.35" cy="862.31" r="6.8"/><circle cx="778.1" cy="866.5" r="6.8"/><circle cx="801.86" cy="869.62" r="6.8"/><circle cx="825.62" cy="874.86" r="6.8"/><circle cx="849.38" cy="880.68" r="6.8"/><circle cx="873.14" cy="884.67" r="6.8"/><circle cx="896.9" cy="889.45" r="6.8"/><circle cx="920.65" cy="892.61" r="6.8"/><circle cx="944.41" cy="893.94" r="6.8"/><circle cx="968.17" cy="896.14" r="6.8"/><circle cx="991.93" cy="898.4" r="6.8"/><circle cx="1015.69" cy="900.4" r="6.8"/><circle cx="1039.45" cy="903.16" r="6.8"/><circle cx="1063.21" cy="905.48" r="6.8"/><circle cx="1086.96" cy="907.77" r="6.8"/><circle cx="1110.72" cy="910.09" r="6.8"/><circle cx="1134.48" cy="913.09" r="6.8"/><circle cx="1158.24" cy="914.25" r="6.8"/><circle cx="1182" cy="916.54" r="6.8"/><circle cx="1205.76" cy="918.38" r="6.8"/><circle cx="1229.52" cy="920.02" r="6.8"/><circle cx="1253.27" cy="921.63" r="6.8"/><circle cx="1277.03" cy="923.02" r="6.8"/><circle cx="1300.79" cy="924.63" r="6.8"/><circle cx="1324.55" cy="926.47" r="6.8"/><circle cx="1348.31" cy="927.63" r="6.8"/><circle cx="1372.07" cy="929.71" r="6.8"/><circle cx="1395.82" cy="931.53" r="6.8"/><circle cx="1419.58" cy="932.69" r="6.8"/><circle cx="1443.34" cy="933.85" r="6.8"/><circle cx="1467.1" cy="935.01" r="6.8"/><circle cx="1490.86" cy="936.17" r="6.8"/><circle cx="1514.62" cy="937.32" r="6.8"/><circle cx="1538.38" cy="939.17" r="6.8"/><circle cx="1562.13" cy="939.61" r="6.8"/><circle cx="1585.89" cy="940.77" r="6.8"/><circle cx="1609.65" cy="941.93" r="6.8"/><circle cx="1633.41" cy="943.54" r="6.8"/><circle cx="1657.17" cy="944.46" r="6.8"/><circle cx="1680.93" cy="945.38" r="6.8"/><circle cx="1704.69" cy="945.38" r="6.8"/><circle cx="1728.44" cy="946.54" r="6.8"/><circle cx="1752.2" cy="947.23" r="6.8"/><circle cx="1775.96" cy="947.7" r="6.8"/><circle cx="1799.72" cy="948.06" r="6.8"/></g>
<path d="M207.9 976.9 L231.66 976.9 L255.42 968.99 L279.18 942.47 L302.93 888.29 L326.69 842.65 L350.45 824.81 L374.21 814.91 L397.97 817.41 L421.73 807.9 L445.49 818.6 L469.24 826.9 L493 833.91 L516.76 841.42 L540.52 851.58 L564.28 855.71 L588.04 861.95 L611.79 866.13 L635.55 871.03 L659.31 875.37 L683.07 880.06 L706.83 883.12 L730.59 885.68 L754.35 886.63 L778.1 886.03 L801.86 885.83 L825.62 885.89 L849.38 885.95 L873.14 886.63 L896.9 887.34 L920.65 888.24 L944.41 887.94 L968.17 887.31 L991.93 887.16 L1015.69 887.16 L1039.45 887.16 L1063.21 887.16 L1086.96 887.16 L1110.72 888.09 L1134.48 890.45 L1158.24 897.05 L1182 903.2 L1205.76 908.54 L1229.52 911.61 L1253.27 914.16 L1277.03 916.99 L1300.79 918.67 L1324.55 915.2 L1348.31 917.12 L1372.07 918.79 L1395.82 920.94 L1419.58 922.2 L1443.34 923.24 L1467.1 924.5 L1490.86 925.99 L1514.62 927.25 L1538.38 928.98 L1562.13 930.02 L1585.89 931.28 L1609.65 932.15 L1633.41 933.59 L1657.17 933.9 L1680.93 934.68 L1704.69 935.44 L1728.44 936.22 L1752.2 936.97 L1775.96 937.76 L1799.72 938.4 L1799.72 977.05 L1775.96 977.03 L1752.2 976.86 L1728.44 976.73 L1704.69 976.56 L1680.93 976.42 L1657.17 976.26 L1633.41 976.56 L1609.65 975.74 L1585.89 975.66 L1562.13 975.55 L1538.38 975.65 L1514.62 975.06 L1490.86 974.94 L1467.1 974.59 L1443.34 974.48 L1419.58 974.57 L1395.82 974.46 L1372.07 974.29 L1348.31 974.6 L1324.55 974.67 L1300.79 973.04 L1277.03 972.89 L1253.27 972.92 L1229.52 973.21 L1205.76 973 L1182 972.81 L1158.24 972.96 L1134.48 972.66 L1110.72 971.34 L1086.96 970.42 L1063.21 970.42 L1039.45 970.42 L1015.69 970.42 L991.93 970.42 L968.17 970.57 L944.41 971.19 L920.65 970.89 L896.9 969.29 L873.14 967.86 L849.38 966.46 L825.62 965.69 L801.86 964.92 L778.1 963.7 L754.35 962.87 L730.59 960.49 L706.83 956.5 L683.07 958.2 L659.31 959.5 L635.55 961.16 L611.79 962.25 L588.04 963.82 L564.28 963.22 L540.52 964.73 L516.76 960.2 L493 958.32 L469.24 956.95 L445.49 957.39 L421.73 952.34 L397.97 957.51 L374.21 957.39 L350.45 959.03 L326.69 961.59 L302.93 964.71 L279.18 974.28 L255.42 976.72 L231.66 976.9 L207.9 976.9 Z" fill="#c8f000" fill-opacity="0.2" stroke="none"/>
<path d="M217.65 976.9L221.91 976.9M241.27 975.26L245.81 974.49M262.97 966.69L271.62 959.63M285.18 945.79L296.93 930.76M310.25 916.63L319.38 908.57M335.65 898.27L341.49 895.77M359.93 889.62L364.73 888.45M383.94 886.69L388.23 886.93M407.28 884.58L412.41 883M430.98 883.19L436.23 884.93M455.1 889.59L459.62 890.33M478.85 893.62L483.4 894.42M502.57 898.01L507.2 898.92M526.08 903.69L531.2 905.28M550.25 908.69L554.54 908.93M573.93 910.85L578.39 911.5M597.77 913.42L602.06 913.66M621.51 914.97L625.83 915.32M645.29 916.64L649.58 916.89M669.04 918.13L673.34 918.43M692.82 919.41L697.08 919.53M716.49 921.14L720.93 921.75M740.31 923.76L744.62 924.07M764.1 924.8L768.35 924.82M787.85 925.07L792.11 925.16M811.61 925.54L815.87 925.62M835.37 925.96L839.63 926.03M859.12 926.63L863.4 926.82M882.88 927.68L887.16 927.88M906.63 928.83L910.92 929.05M930.4 929.56L934.66 929.56M954.16 929.31L958.43 929.2M977.92 928.88L982.18 928.85M1001.68 928.79L1005.94 928.79M1025.44 928.79L1029.7 928.79M1049.2 928.79L1053.46 928.79M1072.96 928.79L1077.21 928.79M1096.71 929.17L1100.98 929.34M1120.44 930.47L1124.76 930.8M1144.13 932.96L1148.59 933.6M1167.91 936.23L1172.33 936.79M1191.68 939.14L1196.07 939.65M1215.48 941.44L1219.79 941.74M1239.25 942.87L1243.54 943.08M1263.01 944.11L1267.3 944.36M1286.78 945.31L1291.05 945.48M1310.53 945.48L1314.81 945.31M1334.29 945.31L1338.57 945.48M1358.05 946.14L1362.32 946.26M1381.8 947.02L1386.09 947.23M1405.57 947.98L1409.84 948.11M1429.33 948.58L1433.59 948.67M1453.09 949.14L1457.35 949.26M1476.84 949.92L1481.12 950.09M1500.6 950.75L1504.87 950.87M1524.36 951.63L1528.64 951.84M1548.12 952.51L1552.39 952.59M1571.88 953.07L1576.15 953.19M1595.64 953.67L1599.9 953.75M1619.39 954.41L1623.67 954.61M1643.16 955.08L1647.42 955.08M1666.92 955.27L1671.18 955.36M1690.68 955.73L1694.94 955.81M1714.43 956.19L1718.7 956.28M1738.19 956.66L1742.45 956.74M1761.95 957.11L1766.21 957.2M1785.71 957.53L1789.97 957.59" fill="none" stroke="#007a5e" stroke-width="1.4"/>
<g fill="#007a5e"><path d="M207.9 967.2L216.4 981.5L199.4 981.5Z"/><path d="M231.66 967.2L240.16 981.5L223.16 981.5Z"/><path d="M255.42 963.16L263.92 977.46L246.92 977.46Z"/><path d="M279.18 943.77L287.68 958.07L270.68 958.07Z"/><path d="M302.93 913.38L311.43 927.68L294.43 927.68Z"/><path d="M326.69 892.42L335.19 906.72L318.19 906.72Z"/><path d="M350.45 882.22L358.95 896.52L341.95 896.52Z"/><path d="M374.21 876.45L382.71 890.75L365.71 890.75Z"/><path d="M397.97 877.76L406.47 892.06L389.47 892.06Z"/><path d="M421.73 870.42L430.23 884.72L413.23 884.72Z"/><path d="M445.49 878.3L453.99 892.6L436.99 892.6Z"/><path d="M469.24 882.22L477.74 896.52L460.74 896.52Z"/><path d="M493 886.41L501.5 900.71L484.5 900.71Z"/><path d="M516.76 891.11L525.26 905.41L508.26 905.41Z"/><path d="M540.52 898.46L549.02 912.76L532.02 912.76Z"/><path d="M564.28 899.76L572.78 914.06L555.78 914.06Z"/><path d="M588.04 903.18L596.54 917.48L579.54 917.48Z"/><path d="M611.79 904.49L620.29 918.79L603.29 918.79Z"/><path d="M635.55 906.4L644.05 920.7L627.05 920.7Z"/><path d="M659.31 907.73L667.81 922.03L650.81 922.03Z"/><path d="M683.07 909.43L691.57 923.73L674.57 923.73Z"/><path d="M706.83 910.11L715.33 924.41L698.33 924.41Z"/><path d="M730.59 913.38L739.09 927.68L722.09 927.68Z"/><path d="M754.35 915.05L762.85 929.35L745.85 929.35Z"/><path d="M778.1 915.17L786.6 929.47L769.6 929.47Z"/><path d="M801.86 915.67L810.36 929.97L793.36 929.97Z"/><path d="M825.62 916.09L834.12 930.39L817.12 930.39Z"/><path d="M849.38 916.5L857.88 930.8L840.88 930.8Z"/><path d="M873.14 917.55L881.64 931.85L864.64 931.85Z"/><path d="M896.9 918.62L905.4 932.92L888.4 932.92Z"/><path d="M920.65 919.86L929.15 934.16L912.15 934.16Z"/><path d="M944.41 919.86L952.91 934.16L935.91 934.16Z"/><path d="M968.17 919.24L976.67 933.54L959.67 933.54Z"/><path d="M991.93 919.09L1000.43 933.39L983.43 933.39Z"/><path d="M1015.69 919.09L1024.19 933.39L1007.19 933.39Z"/><path d="M1039.45 919.09L1047.95 933.39L1030.95 933.39Z"/><path d="M1063.21 919.09L1071.71 933.39L1054.71 933.39Z"/><path d="M1086.96 919.09L1095.46 933.39L1078.46 933.39Z"/><path d="M1110.72 920.01L1119.22 934.31L1102.22 934.31Z"/><path d="M1134.48 921.86L1142.98 936.16L1125.98 936.16Z"/><path d="M1158.24 925.31L1166.74 939.61L1149.74 939.61Z"/><path d="M1182 928.31L1190.5 942.61L1173.5 942.61Z"/><path d="M1205.76 931.07L1214.26 945.37L1197.26 945.37Z"/><path d="M1229.52 932.71L1238.02 947.01L1221.02 947.01Z"/><path d="M1253.27 933.84L1261.77 948.14L1244.77 948.14Z"/><path d="M1277.03 935.24L1285.53 949.54L1268.53 949.54Z"/><path d="M1300.79 936.16L1309.29 950.46L1292.29 950.46Z"/><path d="M1324.55 935.24L1333.05 949.54L1316.05 949.54Z"/><path d="M1348.31 936.16L1356.81 950.46L1339.81 950.46Z"/><path d="M1372.07 936.84L1380.57 951.14L1363.57 951.14Z"/><path d="M1395.82 938L1404.32 952.3L1387.32 952.3Z"/><path d="M1419.58 938.69L1428.08 952.99L1411.08 952.99Z"/><path d="M1443.34 939.16L1451.84 953.46L1434.84 953.46Z"/><path d="M1467.1 939.85L1475.6 954.15L1458.6 954.15Z"/><path d="M1490.86 940.77L1499.36 955.07L1482.36 955.07Z"/><path d="M1514.62 941.45L1523.12 955.75L1506.12 955.75Z"/><path d="M1538.38 942.61L1546.88 956.91L1529.88 956.91Z"/><path d="M1562.13 943.09L1570.63 957.39L1553.63 957.39Z"/><path d="M1585.89 943.77L1594.39 958.07L1577.39 958.07Z"/><path d="M1609.65 944.25L1618.15 958.55L1601.15 958.55Z"/><path d="M1633.41 945.38L1641.91 959.68L1624.91 959.68Z"/><path d="M1657.17 945.38L1665.67 959.68L1648.67 959.68Z"/><path d="M1680.93 945.85L1689.43 960.15L1672.43 960.15Z"/><path d="M1704.69 946.3L1713.19 960.6L1696.19 960.6Z"/><path d="M1728.44 946.77L1736.94 961.07L1719.94 961.07Z"/><path d="M1752.2 947.22L1760.7 961.52L1743.7 961.52Z"/><path d="M1775.96 947.69L1784.46 961.99L1767.46 961.99Z"/><path d="M1799.72 948.02L1808.22 962.32L1791.22 962.32Z"/></g>
</g>
<g font-family="'Liberation Sans', Arial, sans-serif" font-size="36.9" fill="#000" stroke="#000" stroke-width="0.3" text-anchor="end">
<text transform="translate(194.4 987.9) scale(0.949 1)">0</text>
<text transform="translate(194.4 898.7) scale(0.949 1)">3,000</text>
<text transform="translate(194.4 809.5) scale(0.949 1)">6,000</text>
<text transform="translate(194.4 720.3) scale(0.949 1)">9,000</text>
<text transform="translate(194.4 631.1) scale(0.949 1)">12,000</text>
<text transform="translate(194.4 541.9) scale(0.949 1)">15,000</text>
</g>
<g font-family="'Liberation Sans', Arial, sans-serif" font-size="35.6" fill="#000" stroke="#000" stroke-width="0.3" text-anchor="middle">
<text transform="translate(208.35 1017.4) scale(0.96 1)">0</text>
<text transform="translate(406.34 1017.4) scale(0.96 1)">50</text>
<text transform="translate(604.33 1017.4) scale(0.96 1)">100</text>
<text transform="translate(802.31 1017.4) scale(0.96 1)">150</text>
<text transform="translate(1000.3 1017.4) scale(0.96 1)">200</text>
<text transform="translate(1198.29 1017.4) scale(0.96 1)">250</text>
<text transform="translate(1396.27 1017.4) scale(0.96 1)">300</text>
<text transform="translate(1594.26 1017.4) scale(0.96 1)">350</text>
<text transform="translate(1792.25 1017.4) scale(0.96 1)">400</text>
</g>
<rect x="865.8" y="44.9" width="75.7" height="59.7" fill="#fff" stroke="#1a1a1a" stroke-width="1.6"/>
<text transform="translate(904.1 90.7) scale(0.928 1)" font-family="'Liberation Sans', Arial, sans-serif" font-size="45.9" font-weight="bold" text-anchor="middle">CO</text>
<rect x="866.4" y="544.2" width="70.1" height="60.1" fill="#fff" stroke="#1a1a1a" stroke-width="1.6"/>
<text transform="translate(901.9 589.8) scale(0.928 1)" font-family="'Liberation Sans', Arial, sans-serif" font-size="45.9" font-weight="bold" text-anchor="middle">EC</text>
<rect x="1251.9" y="52.9" width="517.5" height="155.4" fill="#fff" stroke="#111" stroke-width="1.25"/>
<path d="M1256.6 76.7H1288M1303.7 76.7H1334.5" stroke="#c8f000" stroke-width="1.3" fill="none"/>
<rect x="1289.5" y="70.7" width="12" height="12" fill="#c8f000"/>
<path d="M1256.6 127.2H1288M1303.7 127.2H1334.5" stroke="#00507a" stroke-width="1.3" fill="none"/>
<circle cx="1295.5" cy="127.2" r="6.8" fill="#00507a"/>
<path d="M1256.6 178.1H1288M1303.7 178.1H1334.5" stroke="#007a5e" stroke-width="1.3" fill="none"/>
<path d="M1295.5 168.4 L1304 182.7 L1287 182.7 Z" fill="#007a5e"/>
<g font-family="'Liberation Sans', Arial, sans-serif" font-size="35" fill="#000" stroke="#000" stroke-width="0.35">
<text x="1344.4" y="87.7">s<tspan font-size="25.5" dy="9.6">P</tspan><tspan dy="-9.6" dx="-1.2"> = min. penetration depth</tspan></text>
<text x="1344.4" y="138.6">s<tspan font-size="25.5" dy="9.6">P</tspan><tspan dy="-9.6" dx="-1.2"> =</tspan><tspan x="1492.5">0.5 cell thickness</tspan></text>
<text x="1344.4" y="188.8">s<tspan font-size="25.5" dy="9.6">P</tspan><tspan dy="-9.6" dx="-1.2"> =</tspan><tspan x="1492.5">1.0 cell thickness</tspan></text>
</g>
<text x="732" y="1089.2" font-family="'Liberation Sans', Arial, sans-serif" font-size="44.8" font-weight="bold" fill="#000">relative test time t<tspan font-size="50.3" dy="9.7">rel,t</tspan><tspan dy="-9.7"> / s</tspan></text>
<text transform="translate(42.2 947.6) rotate(-90) scale(0.9762 1)" font-family="'Liberation Sans', Arial, sans-serif" font-size="47.6" font-weight="bold" fill="#000">concentrations CO c<tspan font-size="33.5" font-weight="normal" stroke="#000" stroke-width="0.9" letter-spacing="-1.4" dy="12.3">CO</tspan><tspan dy="-12.3"> und EC c</tspan><tspan font-size="33.5" font-weight="normal" stroke="#000" stroke-width="0.9" letter-spacing="-1.4" dy="12.3">EC</tspan><tspan dy="-12.3"> / mg m</tspan><tspan font-size="31.5" dx="2.5" dy="-19.1">-3</tspan></text>
</svg>
</body></html>
